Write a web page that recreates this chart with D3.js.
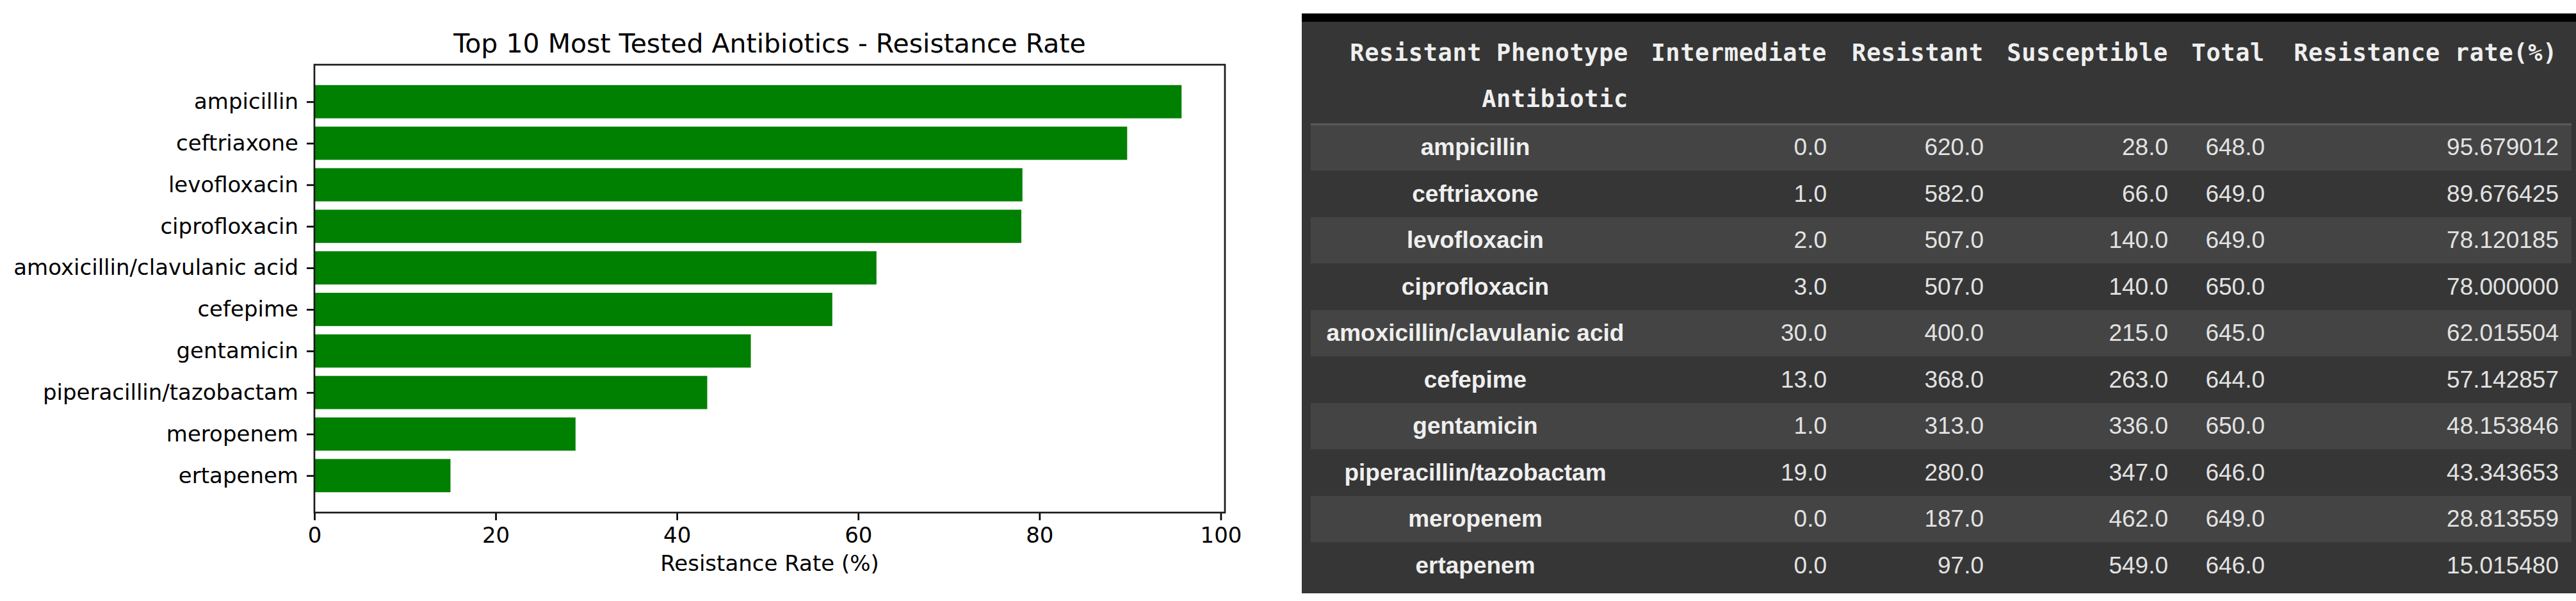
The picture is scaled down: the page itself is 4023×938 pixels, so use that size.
<!DOCTYPE html>
<html>
<head>
    <meta charset="utf-8" />
    <title>Top 10 Most Tested Antibiotics</title>
    <script src="https://cdn.jsdelivr.net/npm/d3@7"></script>
    <style>
        html, body { margin: 0; padding: 0; background: #fff; }
        svg { display: block; }
        .chart text { font-family: "DejaVu Sans", sans-serif; fill: #000; }
        .head { font-family: "DejaVu Sans Mono", monospace; font-weight: bold; font-size: 37px; fill: #efefef; letter-spacing: 0.6px; }
        .name { font-family: "Liberation Sans", Arial, sans-serif; font-weight: bold; font-size: 37px; fill: #efefef; }
        .num { font-family: "Liberation Sans", Arial, sans-serif; font-size: 37px; fill: #e2e2e2; }
    </style>
</head>
<body>
<svg id="page" width="4023" height="938"></svg>
<script>
    // data
    var antibiotics = ["ampicillin", "ceftriaxone", "levofloxacin", "ciprofloxacin",
        "amoxicillin/clavulanic acid", "cefepime", "gentamicin", "piperacillin/tazobactam",
        "meropenem", "ertapenem"];
    var intermediate = [0, 1, 2, 3, 30, 13, 1, 19, 0, 0];
    var resistant = [620, 582, 507, 507, 400, 368, 313, 280, 187, 97];
    var susceptible = [28, 66, 140, 140, 215, 263, 336, 347, 462, 549];
    var totals = [648, 649, 649, 650, 645, 644, 650, 646, 649, 646];
    var rates = [95.679012, 89.676425, 78.120185, 78.000000, 62.015504,
        57.142857, 48.153846, 43.343653, 28.813559, 15.015480];
    var xTicks = [0, 20, 40, 60, 80, 100];
    var headers = ["Intermediate", "Resistant", "Susceptible", "Total", "Resistance rate(%)"];

    (function () {
        var svg = d3.select("#page");

        // ---- bar chart (left) ----
        var pLeft = 491, pRight = 1913, pTop = 101, pBottom = 800;
        var x = d3.scaleLinear().domain([0, d3.max(rates) * 1.05]).range([pLeft, pRight]);
        var n = antibiotics.length;
        var y = d3.scaleLinear().domain([-0.89, n - 1 + 0.89]).range([pTop, pBottom]);

        var chart = svg.append("g").attr("class", "chart");

        chart.selectAll("rect.bar")
            .data(rates)
            .enter().append("rect")
            .attr("class", "bar")
            .attr("x", x(0))
            .attr("y", function (d, i) { return y(i - 0.4); })
            .attr("width", function (d) { return x(d) - x(0); })
            .attr("height", function (d, i) { return y(i + 0.4) - y(i - 0.4); })
            .attr("fill", "#008000");

        var yAxis = d3.axisLeft(y)
            .tickValues(d3.range(n))
            .tickFormat(function (i) { return antibiotics[i]; })
            .tickSize(12)
            .tickPadding(13);
        var gy = chart.append("g").attr("transform", "translate(" + pLeft + ",0)").call(yAxis);

        var xAxis = d3.axisBottom(x)
            .tickValues(xTicks)
            .tickFormat(d3.format("d"))
            .tickSize(12)
            .tickPadding(11);
        var gx = chart.append("g").attr("transform", "translate(0," + pBottom + ")").call(xAxis);

        [gx, gy].forEach(function (g) {
            g.select(".domain").remove();
            g.selectAll(".tick line").attr("stroke", "#000").attr("stroke-width", 2.7);
            g.selectAll(".tick text").attr("font-size", 34).attr("fill", "#000")
                .attr("font-family", "DejaVu Sans");
        });

        chart.append("rect")
            .attr("x", pLeft).attr("y", pTop)
            .attr("width", pRight - pLeft).attr("height", pBottom - pTop)
            .attr("fill", "none").attr("stroke", "#1a1a1a").attr("stroke-width", 2.7);

        chart.append("text")
            .attr("x", (pLeft + pRight) / 2).attr("y", 82)
            .attr("text-anchor", "middle").attr("font-size", 41)
            .text("Top 10 Most Tested Antibiotics - Resistance Rate");

        chart.append("text")
            .attr("x", (pLeft + pRight) / 2).attr("y", 891)
            .attr("text-anchor", "middle").attr("font-size", 34)
            .text("Resistance Rate (%)");

        // ---- data frame table (right) ----
        var tLeft = 2033, tTop = 21, tBottom = 926, tRight = 4023;
        var rowTop = 194, rowH = 72.5, stripeL = 2047, stripeR = 4016;
        var nameCenter = 2304, indexRight = 2543;
        var colRight = [2853, 3098, 3386, 3537, 3994];

        var table = svg.append("g").attr("class", "table");
        table.append("rect").attr("x", tLeft).attr("y", tTop)
            .attr("width", tRight - tLeft).attr("height", tBottom - tTop)
            .attr("fill", "#363636");
        table.append("rect").attr("x", tLeft).attr("y", tTop)
            .attr("width", tRight - tLeft).attr("height", 13)
            .attr("fill", "#000");

        table.selectAll("rect.stripe")
            .data(antibiotics)
            .enter().append("rect")
            .attr("class", "stripe")
            .attr("x", stripeL)
            .attr("y", function (d, i) { return rowTop + i * rowH; })
            .attr("width", stripeR - stripeL)
            .attr("height", rowH)
            .attr("fill", function (d, i) { return i % 2 === 0 ? "#444444" : "#363636"; });

        table.append("line")
            .attr("x1", stripeL).attr("x2", stripeR)
            .attr("y1", rowTop).attr("y2", rowTop)
            .attr("stroke", "#5c5c5c").attr("stroke-width", 3);

        // header
        table.append("text").attr("class", "head")
            .attr("x", indexRight).attr("y", 95).attr("text-anchor", "end")
            .text("Resistant Phenotype");
        table.append("text").attr("class", "head")
            .attr("x", indexRight).attr("y", 167).attr("text-anchor", "end")
            .text("Antibiotic");
        table.selectAll("text.colhead")
            .data(headers)
            .enter().append("text")
            .attr("class", "head colhead")
            .attr("x", function (d, j) { return colRight[j]; })
            .attr("y", 95)
            .attr("text-anchor", "end")
            .text(function (d) { return d; });

        // body
        var rows = antibiotics.map(function (a, i) {
            return {
                name: a,
                cells: [intermediate[i].toFixed(1), resistant[i].toFixed(1), susceptible[i].toFixed(1),
                    totals[i].toFixed(1), rates[i].toFixed(6)]
            };
        });
        var rowG = table.selectAll("g.row")
            .data(rows)
            .enter().append("g")
            .attr("class", "row")
            .attr("transform", function (d, i) { return "translate(0," + (rowTop + i * rowH + rowH / 2 + 12) + ")"; });
        rowG.append("text").attr("class", "name")
            .attr("x", nameCenter).attr("text-anchor", "middle")
            .text(function (d) { return d.name; });
        rowG.selectAll("text.num")
            .data(function (d) { return d.cells; })
            .enter().append("text")
            .attr("class", "num")
            .attr("x", function (d, j) { return colRight[j] + (j === 4 ? 2 : 0); })
            .attr("text-anchor", "end")
            .text(function (d) { return d; });
    })();
</script>
</body>
</html>
